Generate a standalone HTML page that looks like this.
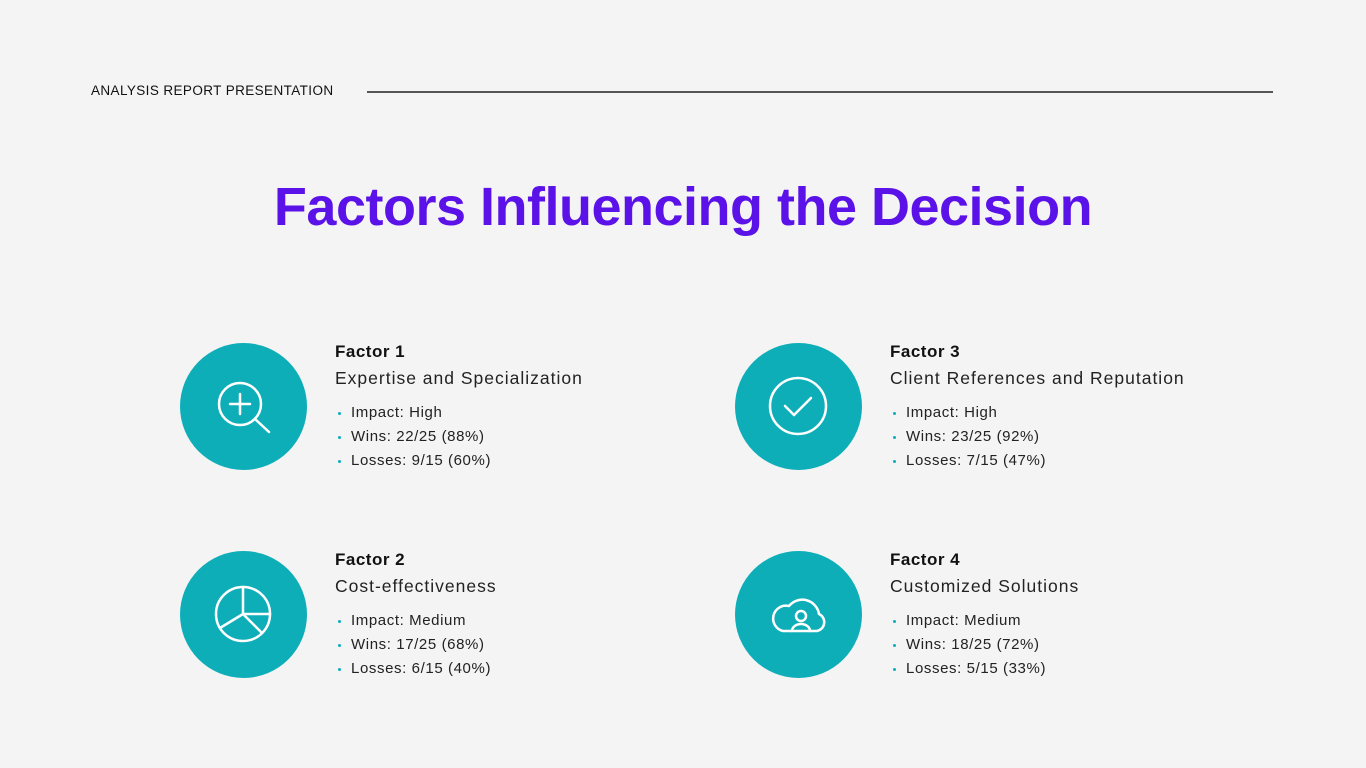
<!DOCTYPE html>
<html><head><meta charset="utf-8"><style>
body{margin:0;width:1366px;height:768px;background:#f4f4f4;font-family:"Liberation Sans",sans-serif;position:relative;overflow:hidden;color:#222}
.hdr{position:absolute;left:91px;top:83px;font-size:13.5px;letter-spacing:0.4px;color:#111}
.rule{position:absolute;left:367px;top:91px;width:906px;height:1.5px;background:#555}
h1{position:absolute;left:0;width:1366px;top:176px;margin:0;text-align:center;font-size:54px;font-weight:bold;color:#5b12e8;letter-spacing:-0.5px}
.circle{position:absolute;width:127px;height:127px;border-radius:50%;background:#0eaeb9}
.circle svg{position:absolute;left:0;top:0}
.txt{position:absolute}
.ft{font-size:17px;font-weight:bold;color:#111;height:27px;line-height:27px;letter-spacing:0.5px}
.st{font-size:17.5px;color:#222;height:27px;line-height:27px;margin-bottom:8px;letter-spacing:1px}
.li{font-size:15px;height:24px;line-height:26px;padding-left:16px;position:relative;color:#222;letter-spacing:0.6px}
.li:before{content:"";position:absolute;left:3px;top:12px;width:3px;height:3px;border-radius:50%;background:#0eaeb9}
</style></head><body>
<div class="hdr">ANALYSIS REPORT PRESENTATION</div>
<div class="rule"></div>
<h1>Factors Influencing the Decision</h1>

<div class="circle" style="left:180px;top:343px">
<svg width="127" height="127" fill="none" stroke="#fff" stroke-width="2.5" stroke-linecap="round"><circle cx="60" cy="61" r="21"/><line x1="60" y1="51" x2="60" y2="71"/><line x1="50" y1="61" x2="70" y2="61"/><line x1="75" y1="76" x2="89" y2="89"/></svg></div>
<div class="txt" style="left:335px;top:338px">
<div class="ft">Factor 1</div><div class="st">Expertise and Specialization</div>
<div class="li">Impact: High</div><div class="li">Wins: 22/25 (88%)</div><div class="li">Losses: 9/15 (60%)</div></div>

<div class="circle" style="left:180px;top:551px">
<svg width="127" height="127" fill="none" stroke="#fff" stroke-width="2.5" stroke-linecap="round" stroke-linejoin="round"><circle cx="63" cy="63" r="27"/><polyline points="63,36 63,63 90,63"/><line x1="63" y1="63" x2="40" y2="77"/><line x1="63" y1="63" x2="82" y2="82"/></svg></div>
<div class="txt" style="left:335px;top:546px">
<div class="ft">Factor 2</div><div class="st">Cost-effectiveness</div>
<div class="li">Impact: Medium</div><div class="li">Wins: 17/25 (68%)</div><div class="li">Losses: 6/15 (40%)</div></div>

<div class="circle" style="left:735px;top:343px">
<svg width="127" height="127" fill="none" stroke="#fff" stroke-width="2.5" stroke-linecap="round" stroke-linejoin="round"><circle cx="63" cy="63" r="28"/><polyline points="50,63 59,72 76,55"/></svg></div>
<div class="txt" style="left:890px;top:338px">
<div class="ft">Factor 3</div><div class="st">Client References and Reputation</div>
<div class="li">Impact: High</div><div class="li">Wins: 23/25 (92%)</div><div class="li">Losses: 7/15 (47%)</div></div>

<div class="circle" style="left:735px;top:551px">
<svg width="127" height="127" fill="none" stroke="#fff" stroke-width="2.5" stroke-linecap="round" stroke-linejoin="round"><path d="M48,80 H82 A9,9 0 0 0 84,63 A17,17 0 0 0 54,55 A12,12 0 0 0 48,80 Z"/><circle cx="66" cy="65" r="5"/><path d="M57,80 A9,7 0 0 1 75,80"/></svg></div>
<div class="txt" style="left:890px;top:546px">
<div class="ft">Factor 4</div><div class="st">Customized Solutions</div>
<div class="li">Impact: Medium</div><div class="li">Wins: 18/25 (72%)</div><div class="li">Losses: 5/15 (33%)</div></div>
</body></html>
